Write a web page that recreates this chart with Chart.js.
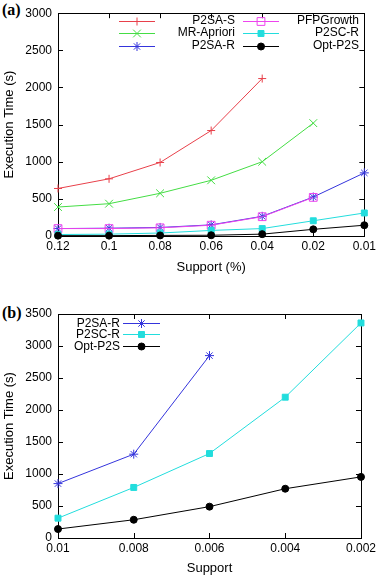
<!DOCTYPE html>
<html>
<head>
<meta charset="utf-8">
<script src="https://cdn.jsdelivr.net/npm/chart.js@4"></script>
<style>
  body { margin: 0; background: #fff; width: 379px; height: 577px; overflow: hidden; position: relative; }
  canvas { position: absolute; left: 0; }
  #chartA { top: 0; }
  #chartB { top: 290px; }
  .tag { position: absolute; left: 2px; font: bold 16px "Liberation Serif", serif; color: #000; }
</style>
</head>
<body>
<div class="tag" style="top:1px">(a)</div>
<canvas id="chartA" width="379" height="290"></canvas>
<div class="tag" style="top:304px">(b)</div>
<canvas id="chartB" width="379" height="287"></canvas>
<script>
// --- chart (a) data ---
const supportA = ['0.12', '0.1', '0.08', '0.06', '0.04', '0.02', '0.01'];
const p2saS_A = [640, 770, 990, 1420, 2120, null, null];
const mrApriori_A = [390, 435, 575, 750, 1000, 1520, null];
const p2saR_A = [100, 105, 115, 150, 265, 525, 850];
const pfpGrowth_A = [100, 100, 110, 145, 260, 520, null];
const p2scR_A = [20, 25, 40, 75, 100, 205, 310];
const optP2S_A = [5, 5, 8, 10, 25, 90, 145];

// --- chart (b) data ---
const supportB = ['0.01', '0.008', '0.006', '0.004', '0.002'];
const p2saR_B = [850, 1310, 2850, null, null];
const p2scR_B = [310, 790, 1320, 2200, 3360];
const optP2S_B = [140, 285, 490, 770, 955];

const FONT = '"Liberation Sans", Arial, sans-serif';
Chart.defaults.font.family = FONT;
Chart.defaults.color = '#000';

// couleurs façon gnuplot
const RED = '#e8404a', GREEN = '#44dd44', BLUE = '#3434dc',
      MAGENTA = '#ee44ee', CYAN = '#22dddd', BLACK = '#000';

function serie(label, data, color, style, r, fill) {
  return {
    label, data,
    borderColor: color,
    backgroundColor: fill === undefined ? color : fill,
    pointStyle: style,
    pointRadius: r,
    pointHoverRadius: r,
    pointBorderWidth: 1,
    borderWidth: 1,
    tension: 0,
    clip: false
  };
}

// cadre + graduations intérieures sur les 4 côtés
const boxFrame = {
  id: 'boxFrame',
  beforeDatasetsDraw(chart) {
    const { ctx, chartArea: a, scales: { x, y } } = chart;
    const t = 5;
    ctx.save();
    ctx.strokeStyle = '#000';
    ctx.lineWidth = 1;
    ctx.beginPath();
    y.ticks.forEach((tk, i) => {
      const py = Math.round(y.getPixelForTick(i)) + 0.5;
      ctx.moveTo(a.left, py); ctx.lineTo(a.left + t, py);
      ctx.moveTo(a.right, py); ctx.lineTo(a.right - t, py);
    });
    x.ticks.forEach((tk, i) => {
      const px = Math.round(x.getPixelForTick(i)) + 0.5;
      ctx.moveTo(px, a.bottom); ctx.lineTo(px, a.bottom - t);
      ctx.moveTo(px, a.top); ctx.lineTo(px, a.top + t);
    });
    ctx.stroke();
    ctx.strokeRect(Math.round(a.left) + 0.5, Math.round(a.top) + 0.5,
                   Math.round(a.right - a.left), Math.round(a.bottom - a.top));
    ctx.restore();
  }
};

// légende dans le cadre (texte aligné à droite + échantillon)
const keyLegend = {
  id: 'keyLegend',
  afterDraw(chart, args, opts) {
    const { ctx } = chart;
    ctx.save();
    ctx.font = '12px ' + FONT;
    ctx.textAlign = 'right';
    ctx.textBaseline = 'middle';
    chart.data.datasets.forEach((d, i) => {
      const col = opts.cols[Math.floor(i / opts.rows.length)];
      const yy = opts.rows[i % opts.rows.length];
      ctx.fillStyle = '#000';
      ctx.fillText(d.label, col.text, yy);
      ctx.strokeStyle = d.borderColor;
      ctx.lineWidth = 1;
      ctx.beginPath();
      ctx.moveTo(col.s1, Math.round(yy) + 0.5);
      ctx.lineTo(col.s2, Math.round(yy) + 0.5);
      ctx.stroke();
      ctx.fillStyle = d.backgroundColor;
      Chart.helpers.drawPoint(ctx, {
        pointStyle: d.pointStyle, radius: d.pointRadius, rotation: 0, borderWidth: 1
      }, (col.s1 + col.s2) / 2, Math.round(yy) + 0.5);
    });
    ctx.restore();
  }
};

function axes(yMax, xHeight, xPad, titleX) {
  return {
    x: {
      grid: { display: false, drawTicks: false },
      border: { display: false },
      ticks: { autoSkip: false, maxRotation: 0, padding: 3, font: { size: 12 } },
      title: { display: true, text: titleX, font: { size: 13 }, padding: { top: 0, bottom: xPad } },
      afterFit(s) { s.height = xHeight; }
    },
    y: {
      min: 0, max: yMax,
      grid: { display: false, drawTicks: false },
      border: { display: false },
      ticks: { stepSize: 500, padding: 6, font: { size: 12 }, callback: v => String(v) },
      title: { display: true, text: 'Execution Time (s)', font: { size: 13 }, padding: { top: 2, bottom: 0 } },
      afterFit(s) { s.width = 58; }
    }
  };
}

const dsA = [
  serie('P2SA-S', p2saS_A, RED, 'cross', 4),
  serie('MR-Apriori', mrApriori_A, GREEN, 'crossRot', 5.5),
  serie('P2SA-R', p2saR_A, BLUE, 'star', 4.5),
  serie('PFPGrowth', pfpGrowth_A, MAGENTA, 'rect', 5.5, 'rgba(0,0,0,0)'),
  serie('P2SC-R', p2scR_A, CYAN, 'rect', 4.2),
  serie('Opt-P2S', optP2S_A, BLACK, 'circle', 3.5)
];
// les dernières séries passent au-dessus
dsA.forEach((d, i) => { d.order = dsA.length - i; });

new Chart(document.getElementById('chartA'), {
  type: 'line',
  data: { labels: supportA, datasets: dsA },
  options: {
    responsive: false,
    animation: false,
    events: [],
    layout: { padding: { top: 11, right: 13, left: 0, bottom: 0 } },
    scales: axes(3000, 54, 15, 'Support (%)'),
    plugins: {
      legend: { display: false },
      tooltip: { enabled: false },
      keyLegend: {
        rows: [20.7, 33, 45.7],
        cols: [{ s1: 119, s2: 155, text: 235 }, { s1: 243, s2: 279, text: 359 }]
      }
    }
  },
  plugins: [boxFrame, keyLegend]
});

const dsB = [
  serie('P2SA-R', p2saR_B, BLUE, 'star', 4.5),
  serie('P2SC-R', p2scR_B, CYAN, 'rect', 4.2),
  serie('Opt-P2S', optP2S_B, BLACK, 'circle', 3.5)
];
dsB.forEach((d, i) => { d.order = dsB.length - i; });

new Chart(document.getElementById('chartB'), {
  type: 'line',
  data: { labels: supportB, datasets: dsB },
  options: {
    responsive: false,
    animation: false,
    events: [],
    layout: { padding: { top: 24, right: 16, left: 0, bottom: 0 } },
    scales: axes(3500, 39, 1, 'Support'),
    plugins: {
      legend: { display: false },
      tooltip: { enabled: false },
      keyLegend: {
        rows: [33.3, 44.3, 56.3],
        cols: [{ s1: 123, s2: 160, text: 120 }]
      }
    }
  },
  plugins: [boxFrame, keyLegend]
});
</script>
</body>
</html>
